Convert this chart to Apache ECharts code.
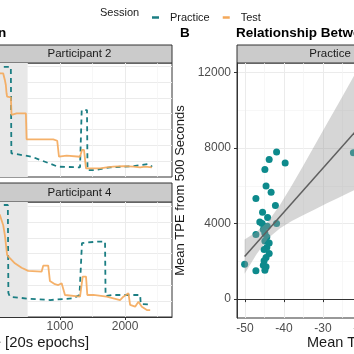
<!DOCTYPE html>
<html><head><meta charset="utf-8">
<script src="https://cdn.jsdelivr.net/npm/echarts@6/dist/echarts.min.js"></script>
<style>html,body{margin:0;padding:0;background:#fff;overflow:hidden}#c{width:354px;height:354px}</style>
</head><body><div id="c"></div>
<script>
// ---------- Panel A: time course (relative TPE units) ----------
const p2PracticeEpoch = [0, 246, 254, 569, 969, 1308, 1334, 1415, 1423, 1538, 1769, 2123, 2354, 2415];
const p2PracticeTPE   = [6.95, 6.95, 1.50, 1.28, 0.65, 0.61, 4.23, 4.23, 0.44, 0.44, 0.61, 0.69, 0.82, 0.65];
const p2TestEpoch = [0, 77, 128, 154, 169, 180, 189, 246, 257, 334, 477, 488, 897, 958, 985, 1103, 1308, 1338, 1369, 1400, 1435, 1615, 1718, 1820, 1974, 2128, 2231, 2308, 2411];
const p2TestTPE   = [6.75, 6.55, 6.55, 6.13, 5.81, 5.29, 5.07, 5.03, 3.92, 4.02, 4.02, 2.38, 2.38, 2.29, 1.28, 1.35, 1.28, 1.71, 1.71, 0.55, 0.55, 0.55, 0.61, 0.65, 0.69, 0.65, 0.61, 0.65, 0.61];
const p4PracticeEpoch = [0, 200, 208, 231, 500, 846, 1200, 1300, 1338, 1580, 1692, 1700, 1800, 2046, 2231, 2240, 2385];
const p4PracticeTPE   = [7.07, 7.07, 1.52, 1.28, 1.16, 1.07, 1.18, 1.39, 4.67, 4.76, 4.76, 1.33, 1.39, 1.39, 1.39, 0.82, 0.79];
const p4TestEpoch = [0, 77, 128, 154, 189, 231, 308, 411, 512, 718, 743, 820, 846, 923, 974, 1026, 1051, 1077, 1308, 1349, 1400, 1420, 1512, 1718, 1820, 1923, 1974, 2051, 2077, 2154, 2205, 2257, 2334, 2385];
const p4TestTPE   = [6.89, 6.44, 5.81, 5.18, 3.92, 3.71, 3.39, 3.11, 2.91, 2.86, 3.24, 3.24, 2.27, 2.07, 2.02, 2.13, 2.07, 1.39, 1.28, 2.55, 2.55, 1.39, 1.39, 1.28, 1.18, 1.07, 1.28, 1.50, 0.76, 0.65, 0.97, 0.65, 0.44, 0.44];
const shadedEpochs = [0, 500];
const epochMajorTicks = [0, 1000, 2000];
const epochMinorTicks = [500, 1500, 2500];
const levelTicks = [1, 2, 3, 4, 5, 6, 7];

// ---------- Panel B: relationship (Practice facet) ----------
const meanTPE = [-41.9, -43.8, -39.7, -44.9, -44.6, -43.3, -47.2, -42.2, -45.5, -44.2, -46.2, -45.6, -41.9, -44.3, -45.3, -47.2, -44.9, -44.4, -44.9, -43.8, -44.4, -45.1, -43.8, -44.6, -45.1, -45.3, -44.6, -44.9, -50.1, -47.2, -22.2];
const meanTPE500 = [7785, 7385, 7205, 6856, 5989, 5656, 5323, 4953, 4599, 4319, 4086, 4002, 4002, 3859, 3684, 3420, 3473, 3293, 3082, 2976, 2733, 2627, 2416, 2204, 2025, 1797, 1707, 1533, 1850, 1496, 7755];
const fitX = [-50.1, -20];
const fitY = [2250, 9270];
const bandX     = [-50.1, -47, -44, -41, -38, -35, -32, -29, -26, -23, -20];
const bandLower = [1340, 2390, 3230, 3750, 4130, 4450, 4760, 5070, 5370, 5670, 5970];
const bandUpper = [3160, 3560, 4120, 4990, 6020, 7090, 8180, 9280, 10370, 11470, 12580];
const bXMajor = [-50, -40, -30, -20];
const bXMinor = [-45, -35, -25, -15, -5];
const bYMajor = [0, 4000, 8000, 12000];
const bYMinor = [2000, 6000, 10000];

const TEAL = '#1B7E83', ORANGE = '#F4A85A', PT = '#0D8A8C';
const FONT = 'Liberation Sans, Arial, sans-serif';
const zip = (a, b) => a.map((v, i) => [v, b[i]]);

const chart = echarts.init(document.getElementById('c'), null, {renderer: 'canvas'});

const gridBase = {show: true, borderColor: '#333', borderWidth: 1, backgroundColor: '#fff', containLabel: false, outerBoundsMode: 'none'};
const majorSplit = {show: true, lineStyle: {color: '#EBEBEB', width: 1}};
const minorSplit = {show: true, lineStyle: {color: '#F3F3F3', width: 0.7}};

function xAx(grid, min, max, ticks, opts) {
  return Object.assign({
    type: 'value', gridIndex: grid, min: min, max: max, position: 'bottom',
    axisLine: {show: false}, axisTick: {show: false, customValues: ticks},
    axisLabel: {show: false, customValues: ticks}, splitLine: majorSplit
  }, opts || {});
}
function yAx(grid, min, max, ticks, opts) {
  return Object.assign({
    type: 'value', gridIndex: grid, min: min, max: max, position: 'left',
    axisLine: {show: false}, axisTick: {show: false, customValues: ticks},
    axisLabel: {show: false, customValues: ticks}, splitLine: majorSplit
  }, opts || {});
}
const labStyle = {show: true, color: '#4D4D4D', fontSize: 12, fontFamily: FONT, formatter: v => String(v)};

const option = {
  animation: false,
  backgroundColor: '#fff',
  textStyle: {fontFamily: FONT},
  legend: {
    data: ['Practice', 'Test'], left: 147, top: 7, icon: 'rect',
    itemWidth: 7, itemHeight: 2.5, itemGap: 13,
    textStyle: {fontSize: 11, color: '#1A1A1A', fontFamily: FONT, padding: [0, 0, 0, 6]}
  },
  grid: [
    Object.assign({left: -13, top: 63, width: 185, height: 114}, gridBase),
    Object.assign({left: -13, top: 202, width: 185, height: 115}, gridBase),
    Object.assign({left: 237, top: 63, width: 186, height: 255}, gridBase)
  ],
  xAxis: [
    xAx(0, -120, 2720, epochMajorTicks),
    xAx(0, -120, 2720, epochMinorTicks, {splitLine: minorSplit}),
    xAx(1, -120, 2720, epochMajorTicks, {
      axisLine: {show: true, lineStyle: {color: '#333'}},
      axisTick: {show: true, length: 3, lineStyle: {color: '#333'}, customValues: epochMajorTicks},
      axisLabel: Object.assign({margin: 4, customValues: epochMajorTicks}, labStyle)
    }),
    xAx(1, -120, 2720, epochMinorTicks, {splitLine: minorSplit}),
    xAx(2, -52.05, -4.35, bXMajor, {
      axisLine: {show: true, lineStyle: {color: '#333'}},
      axisTick: {show: true, length: 3, lineStyle: {color: '#333'}, customValues: bXMajor},
      axisLabel: Object.assign({margin: 5, customValues: bXMajor}, labStyle)
    }),
    xAx(2, -52.05, -4.35, bXMinor, {splitLine: minorSplit})
  ],
  yAxis: [
    yAx(0, 0, 7.2, levelTicks),
    yAx(1, 0, 7.26, levelTicks),
    yAx(2, -1000, 12500, bYMajor, {
      axisLine: {show: true, lineStyle: {color: '#333'}},
      axisTick: {show: true, length: 3, lineStyle: {color: '#333'}, customValues: bYMajor},
      axisLabel: Object.assign({margin: 6, customValues: bYMajor}, labStyle),
      name: 'Mean TPE from 500 Seconds', nameLocation: 'middle', nameGap: 37, nameRotate: 90,
      nameTextStyle: {fontSize: 13, color: '#1A1A1A', fontFamily: FONT}
    }),
    yAx(2, -1000, 12500, bYMinor, {splitLine: minorSplit})
  ],
  series: [
    {type: 'line', name: 'shade2', xAxisIndex: 0, yAxisIndex: 0, data: [], z: 1,
     markArea: {silent: true, itemStyle: {color: '#E8E8E8'}, data: [[{xAxis: shadedEpochs[0] - 120}, {xAxis: shadedEpochs[1]}]]}},
    {type: 'line', name: 'shade4', xAxisIndex: 2, yAxisIndex: 1, data: [], z: 1,
     markArea: {silent: true, itemStyle: {color: '#E8E8E8'}, data: [[{xAxis: shadedEpochs[0] - 120}, {xAxis: shadedEpochs[1]}]]}},
    {type: 'line', name: 'Practice', xAxisIndex: 0, yAxisIndex: 0, data: zip(p2PracticeEpoch, p2PracticeTPE),
     showSymbol: false, color: TEAL, lineStyle: {color: TEAL, width: 1.8, type: [5, 4]}, z: 3},
    {type: 'line', name: 'Test', xAxisIndex: 0, yAxisIndex: 0, data: zip(p2TestEpoch, p2TestTPE),
     showSymbol: false, color: ORANGE, lineStyle: {color: ORANGE, width: 1.8, opacity: 0.9}, z: 4},
    {type: 'line', name: 'Practice', xAxisIndex: 2, yAxisIndex: 1, data: zip(p4PracticeEpoch, p4PracticeTPE),
     showSymbol: false, color: TEAL, lineStyle: {color: TEAL, width: 1.8, type: [5, 4]}, z: 3},
    {type: 'line', name: 'Test', xAxisIndex: 2, yAxisIndex: 1, data: zip(p4TestEpoch, p4TestTPE),
     showSymbol: false, color: ORANGE, lineStyle: {color: ORANGE, width: 1.8, opacity: 0.9}, z: 4},
    {type: 'scatter', name: 'pts', xAxisIndex: 4, yAxisIndex: 2, data: zip(meanTPE, meanTPE500),
     symbolSize: 7, itemStyle: {color: PT, opacity: 1}, z: 2},
    {type: 'custom', name: 'band', xAxisIndex: 4, yAxisIndex: 2, z: 3,
     data: bandX.map((x, i) => [x, bandLower[i], bandUpper[i]]), encode: {x: 0, y: [1, 2]},
     renderItem: function (params, api) {
       if (params.dataIndex !== 0) return null;
       const pts = [];
       for (let i = 0; i < bandX.length; i++) pts.push(api.coord([bandX[i], bandUpper[i]]));
       for (let i = bandX.length - 1; i >= 0; i--) pts.push(api.coord([bandX[i], bandLower[i]]));
       const cs = params.coordSys;
       return {type: 'polygon', shape: {points: pts}, style: {fill: 'rgba(153,153,153,0.4)'},
               clipPath: {type: 'rect', shape: {x: cs.x, y: cs.y, width: cs.width, height: cs.height}}};
     }},
    {type: 'line', name: 'fit', xAxisIndex: 4, yAxisIndex: 2, data: zip(fitX, fitY),
     showSymbol: false, lineStyle: {color: '#5F5F5F', width: 1.5}, z: 4}
  ],
  graphic: [
    {type: 'text', left: 100, top: 7, style: {text: 'Session', fontSize: 11, fill: '#1A1A1A', fontFamily: FONT}},
    {type: 'text', left: -2, top: 26, style: {text: 'n', fontSize: 13.5, fontWeight: 'bold', fill: '#000', fontFamily: FONT}},
    {type: 'text', left: 180, top: 26, style: {text: 'B', fontSize: 13.5, fontWeight: 'bold', fill: '#000', fontFamily: FONT}},
    {type: 'text', left: 236, top: 26, style: {text: 'Relationship Between', fontSize: 13.5, fontWeight: 'bold', fill: '#000', fontFamily: FONT}},
    {type: 'rect', shape: {x: -13, y: 45, width: 185, height: 18}, style: {fill: '#CBCBCB', stroke: '#333', lineWidth: 1}},
    {type: 'text', x: 79.5, y: 54, style: {text: 'Participant 2', fontSize: 11.5, fill: '#1A1A1A', fontFamily: FONT, align: 'center', verticalAlign: 'middle'}},
    {type: 'rect', shape: {x: -13, y: 183, width: 185, height: 19}, style: {fill: '#CBCBCB', stroke: '#333', lineWidth: 1}},
    {type: 'text', x: 79.5, y: 192.5, style: {text: 'Participant 4', fontSize: 11.5, fill: '#1A1A1A', fontFamily: FONT, align: 'center', verticalAlign: 'middle'}},
    {type: 'rect', shape: {x: 237, y: 45, width: 186, height: 18}, style: {fill: '#CBCBCB', stroke: '#333', lineWidth: 1}},
    {type: 'text', x: 330, y: 54, style: {text: 'Practice', fontSize: 11.5, fill: '#1A1A1A', fontFamily: FONT, align: 'center', verticalAlign: 'middle'}},
    {type: 'text', x: 89, y: 343, style: {text: 'Time [20s epochs]', fontSize: 14.8, fill: '#1A1A1A', fontFamily: FONT, align: 'right', verticalAlign: 'middle'}},
    {type: 'text', x: 307, y: 343, style: {text: 'Mean TPE', fontSize: 14.5, fill: '#1A1A1A', fontFamily: FONT, align: 'left', verticalAlign: 'middle'}}
  ]
};
chart.setOption(option);
</script>
</body></html>
